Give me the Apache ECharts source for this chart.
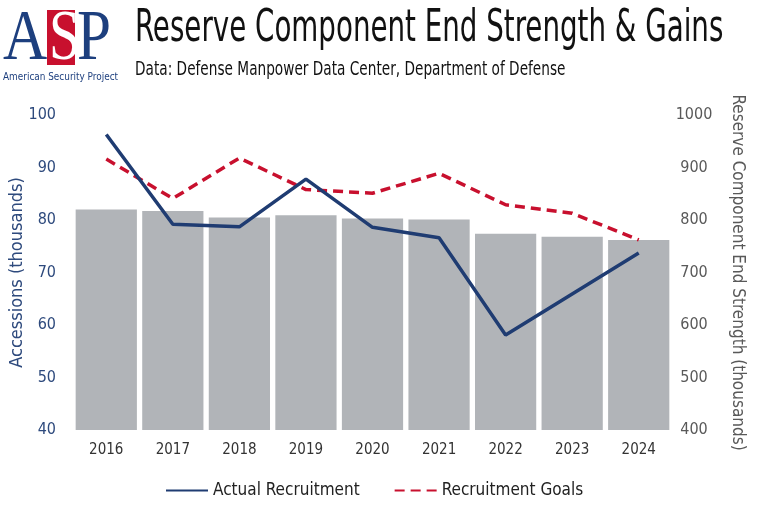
<!DOCTYPE html>
<html><head><meta charset="utf-8">
<script src="https://cdn.jsdelivr.net/npm/echarts@6/dist/echarts.min.js"></script>
<style>html,body{margin:0;padding:0;background:#fff}#c{width:768px;height:509px}</style>
</head><body><div id="c"></div>
<script>
const years = ['2016','2017','2018','2019','2020','2021','2022','2023','2024'];
const endStrength = [820, 817, 805, 809, 803, 801, 774, 768, 762];
const actualRecruitment = [96.3, 79.2, 78.7, 87.8, 78.6, 76.6, 58.1, 65.9, 73.7];
const recruitmentGoals = [91.6, 84.1, 91.8, 85.8, 85.1, 88.9, 82.9, 81.3, 76.2];
const leftTicks = [40, 100, 10];
const rightTicks = [400, 1000, 100];

const NARROW = '"DejaVu Sans Condensed","Liberation Sans Narrow",sans-serif';
const NAVY = '#1f3c72';
const RED = '#c8102e';
const GRAY = '#595959';

const chart = echarts.init(document.getElementById('c'));
chart.setOption({
  animation: false,
  backgroundColor: '#fff',
  grid: {left: 73, right: 96, top: 115, bottom: 79, containLabel: false, outerBoundsMode: 'none'},
  graphic: [
    {type: 'text', x: 3, y: 4, style: {text: 'A', font: '400 72px "Liberation Serif",serif', fill: '#1d3f7e'}, scaleX: 0.85},
    {type: 'rect', shape: {x: 47, y: 10, width: 28, height: 55}, style: {fill: '#c8102e'}},
    {type: 'text', x: 49, y: 4, style: {text: 'S', font: '400 72px "Liberation Serif",serif', fill: '#fff'}, scaleX: 0.78},
    {type: 'text', x: 77, y: 4, style: {text: 'P', font: '400 72px "Liberation Serif",serif', fill: '#1d3f7e'}, scaleX: 0.85},
    {type: 'text', x: 3, y: 72, style: {text: 'American Security Project', font: '400 10px ' + NARROW, fill: '#1d3f7e'}, scaleX: 0.99},
    {type: 'text', x: 135, y: 8, style: {text: 'Reserve Component End Strength & Gains', font: '400 44px ' + NARROW, fill: '#111'}, scaleX: 0.70},
    {type: 'text', x: 135, y: 61, style: {text: 'Data: Defense Manpower Data Center, Department of Defense', font: '400 19px ' + NARROW, fill: '#111'}, scaleX: 0.8}
  ],
  legend: {
    left: 160, top: 477,
    itemWidth: 42, itemHeight: 14, itemGap: 34,
    data: ['Actual Recruitment', 'Recruitment Goals'],
    itemStyle: {opacity: 0},
    textStyle: {fontFamily: NARROW, fontSize: 17, color: '#222'}
  },
  xAxis: {
    type: 'category', data: years,
    axisLine: {show: false}, axisTick: {show: false},
    axisLabel: {fontFamily: NARROW, fontSize: 15, color: '#333', margin: 13}
  },
  yAxis: [
    {type: 'value', min: leftTicks[0], max: leftTicks[1], interval: leftTicks[2],
     position: 'left', splitLine: {show: false}, axisLine: {show: false}, axisTick: {show: false},
     axisLabel: {fontFamily: NARROW, fontSize: 16, color: '#2e4a7d', margin: 17},
     name: 'Accessions (thousands)', nameLocation: 'middle', nameRotate: 90, nameGap: 47,
     nameMoveOverlap: false,
     nameTextStyle: {fontFamily: NARROW, fontSize: 18, color: '#2e4a7d'}},
    {type: 'value', min: rightTicks[0], max: rightTicks[1], interval: rightTicks[2],
     position: 'right', splitLine: {show: false}, axisLine: {show: false}, axisTick: {show: false},
     axisLabel: {fontFamily: NARROW, fontSize: 16, color: GRAY, margin: 22, align: 'center',
                 formatter: v => String(v)},
     name: 'Reserve Component End Strength (thousands)', nameLocation: 'middle', nameRotate: -90, nameGap: 57,
     nameTextStyle: {fontFamily: NARROW, fontSize: 17, color: GRAY}}
  ],
  series: [
    {name: 'End Strength', type: 'bar', yAxisIndex: 1, data: endStrength, barCategoryGap: '8%',
     itemStyle: {color: '#b1b4b8'}, z: 1},
    {name: 'Actual Recruitment', type: 'line', yAxisIndex: 0, data: actualRecruitment, symbol: 'none',
     lineStyle: {color: NAVY, width: 3.5}, itemStyle: {color: NAVY}, z: 3},
    {name: 'Recruitment Goals', type: 'line', yAxisIndex: 0, data: recruitmentGoals, symbol: 'none',
     lineStyle: {color: RED, width: 3.5, type: [10, 6]}, itemStyle: {color: RED}, z: 2}
  ]
});
</script></body></html>
